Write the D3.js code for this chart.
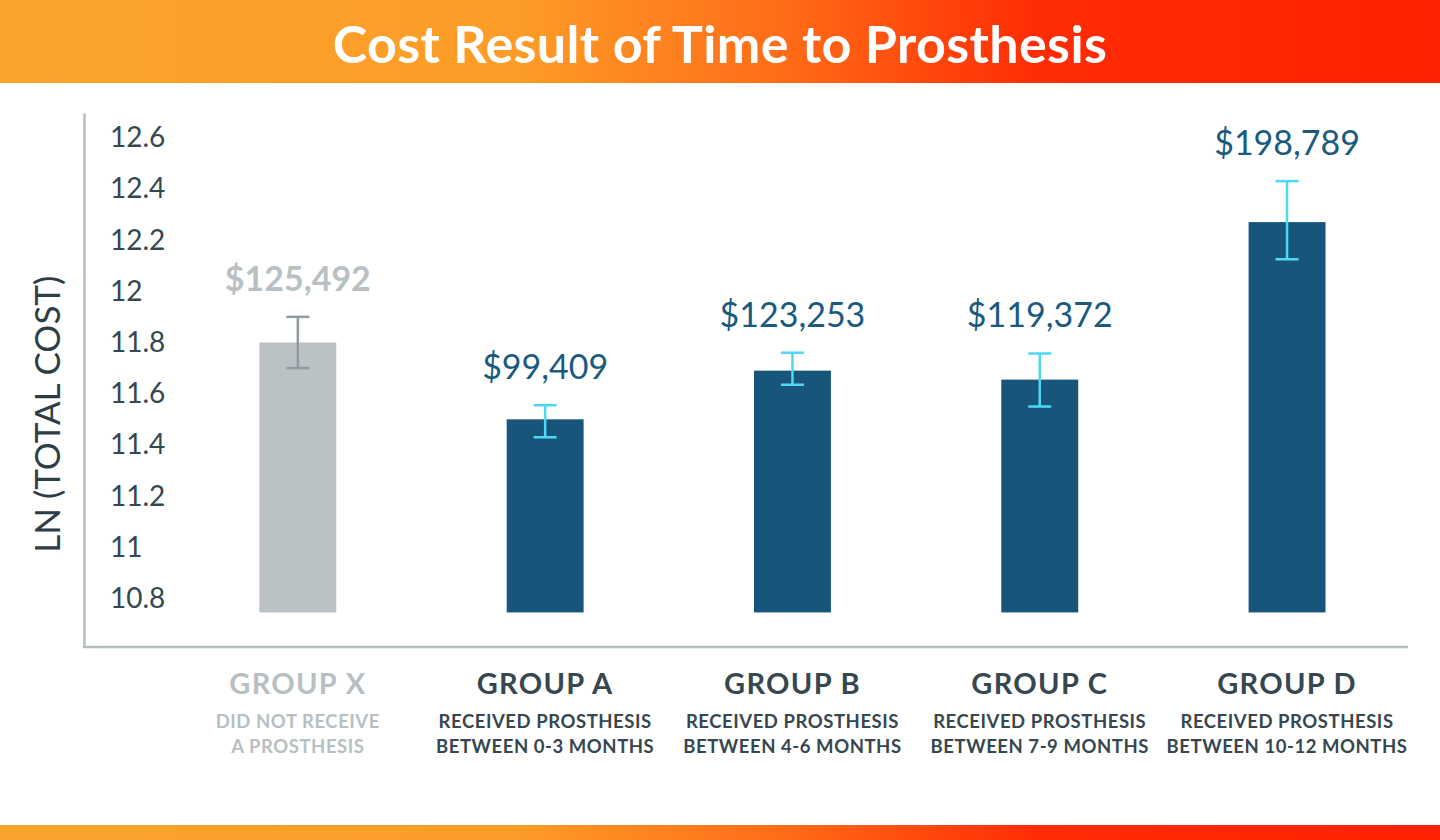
<!DOCTYPE html>
<html>
<head>
<meta charset="utf-8">
<script src="https://cdn.jsdelivr.net/npm/d3@7"></script>
<style>
  body { margin: 0; background: #fff; }
  svg { display: block; font-family: Lato, "Open Sans", sans-serif; }
</style>
</head>
<body>
<div id="vis-container"></div>
<script>
// Chart data
const groups = ["GROUP X", "GROUP A", "GROUP B", "GROUP C", "GROUP D"];
const subtitles = [
  ["DID NOT RECEIVE", "A PROSTHESIS"],
  ["RECEIVED PROSTHESIS", "BETWEEN 0-3 MONTHS"],
  ["RECEIVED PROSTHESIS", "BETWEEN 4-6 MONTHS"],
  ["RECEIVED PROSTHESIS", "BETWEEN 7-9 MONTHS"],
  ["RECEIVED PROSTHESIS", "BETWEEN 10-12 MONTHS"]
];
const lnCost = [11.80, 11.50, 11.69, 11.655, 12.27];
const errLow = [11.70, 11.43, 11.635, 11.55, 12.125];
const errHigh = [11.90, 11.555, 11.76, 11.757, 12.43];
const costLabels = ["$125,492", "$99,409", "$123,253", "$119,372", "$198,789"];
const yTicks = [10.8, 11, 11.2, 11.4, 11.6, 11.8, 12, 12.2, 12.4, 12.6];
const barBase = 10.746;

const width = 1440;
const height = 840;
const margin = { top: 113, right: 32, bottom: 193, left: 84 };

const svg = d3.select("#vis-container")
  .append("svg")
  .attr("width", width)
  .attr("height", height)
  .attr("viewBox", [0, 0, width, height]);

// gradient for the header and footer strips
const defs = svg.append("defs");
const grad = defs.append("linearGradient")
  .attr("id", "hdr")
  .attr("x1", "0%").attr("x2", "100%").attr("y1", "0%").attr("y2", "0%");
grad.append("stop").attr("offset", "0%").attr("stop-color", "#fba52d");
grad.append("stop").attr("offset", "36%").attr("stop-color", "#fd9c27");
grad.append("stop").attr("offset", "55%").attr("stop-color", "#ff6a17");
grad.append("stop").attr("offset", "72%").attr("stop-color", "#ff2c04");
grad.append("stop").attr("offset", "100%").attr("stop-color", "#ff2200");

svg.append("rect")
  .attr("x", 0).attr("y", 0)
  .attr("width", width).attr("height", 83)
  .attr("fill", "url(#hdr)");

svg.append("rect")
  .attr("x", 0).attr("y", 825)
  .attr("width", width).attr("height", 15)
  .attr("fill", "url(#hdr)");

svg.append("text")
  .attr("x", width / 2)
  .attr("y", 63)
  .attr("text-anchor", "middle")
  .attr("fill", "#fff")
  .attr("font-size", "52px")
  .attr("font-weight", 700)
  .attr("letter-spacing", "0.4px")
  .text("Cost Result of Time to Prosthesis");

// Scales
const yScale = d3.scaleLinear()
  .domain([10.611, 12.696])
  .range([height - margin.bottom, margin.top]);

const xScale = d3.scaleBand()
  .domain(groups)
  .range([174.2, 1410.7])
  .paddingInner(0.689)
  .paddingOuter(0.3445);

// Y axis
const yAxis = svg.append("g")
  .attr("transform", `translate(${margin.left},0)`)
  .call(d3.axisLeft(yScale)
    .tickValues(yTicks)
    .tickSize(0)
    .tickSizeOuter(0)
    .tickFormat((d) => String(+d.toFixed(1))));

yAxis.select(".domain")
  .attr("stroke", "#b5bdc1")
  .attr("stroke-width", 2.5);

yAxis.selectAll("text")
  .attr("text-anchor", "start")
  .attr("x", 26)
  .attr("fill", "#35474f")
  .attr("font-size", "28px")
  .attr("font-family", "Lato, sans-serif");

// X axis line
svg.append("line")
  .attr("x1", margin.left - 1.25)
  .attr("x2", width - margin.right)
  .attr("y1", yScale.range()[0])
  .attr("y2", yScale.range()[0])
  .attr("stroke", "#b5bdc1")
  .attr("stroke-width", 2.5);

// Y axis title
svg.append("text")
  .attr("transform", `translate(60,${yScale(11.52)}) rotate(-90)`)
  .attr("text-anchor", "middle")
  .attr("fill", "#2e3e46")
  .attr("font-size", "35px")
  .text("LN (TOTAL COST)");

const isGray = (i) => i === 0;

// Bars
svg.selectAll(".bar")
  .data(groups)
  .enter()
  .append("rect")
  .attr("class", "bar")
  .attr("x", (d) => xScale(d))
  .attr("y", (d, i) => yScale(lnCost[i]))
  .attr("width", xScale.bandwidth())
  .attr("height", (d, i) => yScale(barBase) - yScale(lnCost[i]))
  .attr("fill", (d, i) => isGray(i) ? "#bac2c5" : "#17567a");

// Error bars
const err = svg.selectAll(".err")
  .data(groups)
  .enter()
  .append("g")
  .attr("class", "err")
  .attr("stroke", (d, i) => isGray(i) ? "#8e9ca0" : "#4fd8f6")
  .attr("stroke-width", 2.5);

const cx = (d) => xScale(d) + xScale.bandwidth() / 2;

err.append("line")
  .attr("x1", cx).attr("x2", cx)
  .attr("y1", (d, i) => yScale(errHigh[i]))
  .attr("y2", (d, i) => yScale(errLow[i]));

err.append("line")
  .attr("x1", (d) => cx(d) - 11.5).attr("x2", (d) => cx(d) + 11.5)
  .attr("y1", (d, i) => yScale(errHigh[i]))
  .attr("y2", (d, i) => yScale(errHigh[i]));

err.append("line")
  .attr("x1", (d) => cx(d) - 11.5).attr("x2", (d) => cx(d) + 11.5)
  .attr("y1", (d, i) => yScale(errLow[i]))
  .attr("y2", (d, i) => yScale(errLow[i]));

// Cost labels above error bars
svg.selectAll(".cost")
  .data(groups)
  .enter()
  .append("text")
  .attr("class", "cost")
  .attr("x", cx)
  .attr("y", (d, i) => yScale(errHigh[i]) - 26)
  .attr("text-anchor", "middle")
  .attr("font-size", "34px")
  .attr("font-weight", (d, i) => isGray(i) ? 700 : 400)
  .attr("fill", (d, i) => isGray(i) ? "#b8c0c3" : "#1a5a7e")
  .text((d, i) => costLabels[i]);

// Group labels under the axis
const cat = svg.selectAll(".cat")
  .data(groups)
  .enter()
  .append("g")
  .attr("class", "cat")
  .attr("fill", (d, i) => isGray(i) ? "#b7bfc2" : "#36474f")
  .attr("text-anchor", "middle");

cat.append("text")
  .attr("x", cx)
  .attr("y", 694)
  .attr("font-size", "29px")
  .attr("font-weight", 700)
  .attr("letter-spacing", "1.3px")
  .text((d) => d);

cat.append("text")
  .attr("x", cx)
  .attr("y", 728)
  .attr("font-size", "18.5px")
  .attr("font-weight", 700)
  .attr("letter-spacing", "0.55px")
  .text((d, i) => subtitles[i][0]);

cat.append("text")
  .attr("x", cx)
  .attr("y", 753)
  .attr("font-size", "18.5px")
  .attr("font-weight", 700)
  .attr("letter-spacing", "0.55px")
  .text((d, i) => subtitles[i][1]);
</script>
</body>
</html>
